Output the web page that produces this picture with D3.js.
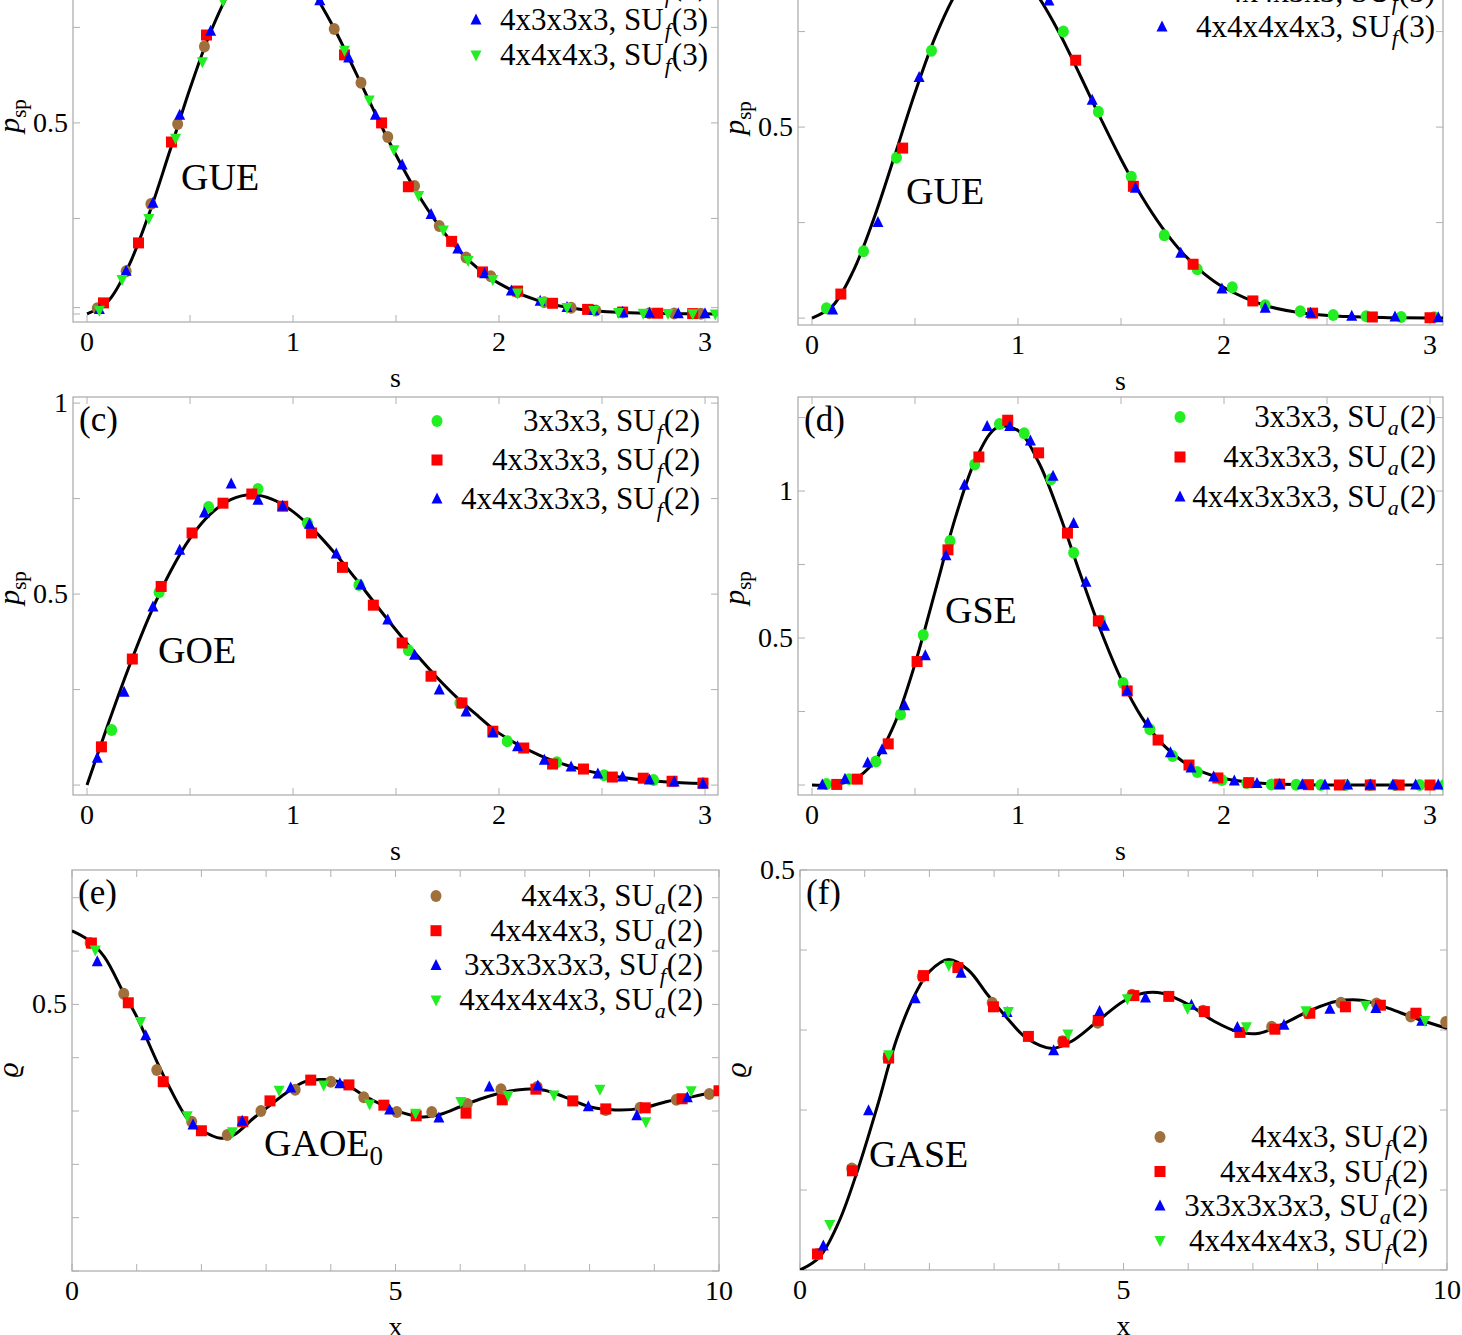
<!DOCTYPE html>
<html>
<head>
<meta charset="utf-8">
<script src="https://cdn.jsdelivr.net/npm/d3@7"></script>
<style>
body { margin: 0; background: #fff; }
text { font-family: "Liberation Serif", "DejaVu Serif", serif; }
</style>
</head>
<body>
<script>
var W = 1462, H = 1335;

// ---- theory curves ----
var gueS = [0,0.1,0.2,0.3,0.4,0.5,0.6,0.7,0.8,0.9,1.0,1.1,1.2,1.3,1.4,1.5,1.6,1.7,1.8,1.9,2.0,2.2,2.4,2.6,2.8,3.0,3.1];
var gueP = [0,0.032,0.123,0.260,0.423,0.590,0.738,0.851,0.921,0.936,0.908,0.840,0.747,0.637,0.524,0.416,0.319,0.237,0.170,0.118,0.080,0.033,0.012,0.004,0.0012,0.0003,0.0001];
var goeS = [0,0.1,0.2,0.3,0.4,0.5,0.6,0.7,0.8,0.9,1.0,1.1,1.2,1.3,1.4,1.5,1.6,1.7,1.8,1.9,2.0,2.2,2.4,2.6,2.8,3.0];
var goeP = [0,0.156,0.304,0.439,0.554,0.646,0.710,0.748,0.760,0.748,0.716,0.668,0.609,0.543,0.474,0.406,0.341,0.281,0.227,0.180,0.136,0.077,0.041,0.020,0.009,0.004];
var gseS = [0,0.1,0.2,0.3,0.4,0.5,0.6,0.7,0.8,0.9,1.0,1.1,1.2,1.3,1.4,1.5,1.6,1.7,1.8,1.9,2.0,2.2,2.4,2.6,2.8,3.1];
var gseP = [0,0.001,0.017,0.077,0.207,0.412,0.665,0.919,1.116,1.217,1.206,1.098,0.924,0.722,0.528,0.361,0.231,0.140,0.080,0.043,0.022,0.005,0.001,0,0,0];
var gaoeX = [0,0.25,0.5,0.8,1.0,1.3,1.5,1.8,2.0,2.3,2.5,2.8,3.0,3.3,3.6,3.9,4.2,4.5,4.8,5.0,5.4,5.7,6.0,6.3,6.7,7.0,7.3,7.6,8.0,8.4,8.8,9.2,9.6,10];
var gaoeR = [0.638,0.621,0.589,0.521,0.477,0.396,0.346,0.283,0.264,0.249,0.255,0.286,0.305,0.333,0.355,0.359,0.352,0.330,0.311,0.301,0.289,0.294,0.308,0.322,0.336,0.341,0.339,0.327,0.308,0.302,0.305,0.318,0.327,0.338];
var gaseX = [0,0.3,0.6,0.9,1.2,1.5,1.8,2.0,2.3,2.6,2.9,3.2,3.5,3.9,4.2,4.6,5.0,5.3,5.6,6.0,6.4,6.8,7.1,7.5,7.9,8.3,8.7,9.1,9.5,10];
var gaseR = [0,0.016,0.060,0.127,0.206,0.290,0.348,0.373,0.388,0.375,0.344,0.315,0.290,0.277,0.286,0.311,0.336,0.346,0.346,0.332,0.311,0.297,0.296,0.309,0.325,0.336,0.337,0.327,0.315,0.302];

// ---- data points ----
// (a) GUE, SU_f(3)
var aBrownX = [0.05,0.19,0.31,0.44,0.57,1.20,1.33,1.46,1.59,1.71,1.84,1.96,2.09,2.22,2.35,2.47,2.60,2.73,2.85,2.98];
var aBrownY = [0.015,0.112,0.288,0.497,0.70,0.746,0.605,0.463,0.335,0.230,0.148,0.099,0.057,0.031,0.016,0.009,0.004,0.002,0.001,0.0003];
var aRedX = [0.08,0.25,0.41,0.58,1.25,1.43,1.56,1.77,1.92,2.09,2.26,2.43,2.60,2.77,2.94];
var aRedY = [0.029,0.186,0.45,0.73,0.678,0.50,0.333,0.19,0.11,0.06,0.028,0.012,0.005,0.002,0.001];
var aBlueX = [0.06,0.19,0.32,0.45,0.60,1.13,1.27,1.40,1.53,1.67,1.80,1.93,2.06,2.20,2.33,2.46,2.60,2.73,2.87,3.00];
var aBlueY = [0.012,0.112,0.29,0.52,0.74,0.82,0.67,0.52,0.39,0.26,0.17,0.105,0.06,0.033,0.017,0.009,0.004,0.002,0.0008,0.0003];
var aGreenX = [0.06,0.17,0.30,0.43,0.56,0.66,1.25,1.37,1.49,1.61,1.73,1.85,1.97,2.09,2.21,2.33,2.46,2.58,2.70,2.82,2.94,3.05];
var aGreenY = [0.01,0.09,0.25,0.46,0.66,0.82,0.69,0.56,0.43,0.31,0.22,0.14,0.09,0.055,0.032,0.017,0.009,0.004,0.002,0.001,0.0005,0.0002];
// (b) GUE, SU_f(3)
var bGreenX = [0.07,0.25,0.41,0.58,1.22,1.39,1.55,1.71,1.87,2.04,2.20,2.37,2.53,2.69,2.86,3.02];
var bGreenY = [0.026,0.175,0.42,0.70,0.75,0.54,0.37,0.217,0.128,0.081,0.034,0.018,0.008,0.005,0.003,0.002];
var bRedX = [0.14,0.44,1.28,1.56,1.85,2.14,2.43,2.72,3.00];
var bRedY = [0.063,0.445,0.675,0.345,0.141,0.045,0.013,0.003,0.001];
var bBlueX = [0.10,0.32,0.52,1.15,1.36,1.57,1.79,1.99,2.20,2.42,2.62,2.83,3.04];
var bBlueY = [0.021,0.25,0.63,0.83,0.57,0.34,0.17,0.076,0.026,0.013,0.005,0.003,0.001];
// (c) GOE, SU_f(2)
var cGreenX = [0.12,0.35,0.59,0.83,1.07,1.32,1.56,1.81,2.04,2.28,2.51,2.75,2.99];
var cGreenY = [0.144,0.505,0.728,0.775,0.686,0.524,0.353,0.215,0.115,0.06,0.026,0.013,0.005];
var cRedX = [0.07,0.22,0.36,0.51,0.66,0.80,0.95,1.09,1.24,1.39,1.53,1.67,1.82,1.97,2.12,2.26,2.41,2.55,2.70,2.84,2.99];
var cRedY = [0.10,0.33,0.52,0.66,0.738,0.762,0.73,0.66,0.57,0.471,0.372,0.285,0.215,0.141,0.097,0.055,0.042,0.021,0.018,0.010,0.005];
var cBlueX = [0.05,0.18,0.32,0.45,0.57,0.70,0.83,0.95,1.08,1.21,1.33,1.46,1.59,1.71,1.84,1.97,2.09,2.22,2.35,2.48,2.60,2.73,2.85,2.99];
var cBlueY = [0.07,0.243,0.466,0.615,0.712,0.788,0.746,0.73,0.683,0.605,0.524,0.432,0.34,0.249,0.191,0.136,0.10,0.065,0.047,0.029,0.021,0.013,0.008,0.003];
// (d) GSE, SU_a(2)
var dGreenX = [0.07,0.18,0.31,0.43,0.54,0.67,0.79,0.91,1.03,1.16,1.27,1.40,1.51,1.64,1.75,1.87,1.99,2.11,2.23,2.35,2.47,2.59,2.71,2.83,2.95,3.07];
var dGreenY = [0.003,0.02,0.08,0.24,0.51,0.83,1.09,1.228,1.197,1.04,0.79,0.56,0.347,0.19,0.099,0.044,0.017,0.007,0.002,0.001,0,0,0,0,0,0];
var dRedX = [0.12,0.22,0.37,0.51,0.66,0.81,0.95,1.10,1.24,1.39,1.53,1.68,1.83,1.97,2.12,2.27,2.41,2.56,2.71,2.85,3.00];
var dRedY = [0.002,0.02,0.14,0.42,0.80,1.116,1.241,1.13,0.857,0.558,0.32,0.153,0.068,0.024,0.008,0.003,0.001,0,0,0,0];
var dBlueX = [0.05,0.16,0.27,0.34,0.45,0.55,0.65,0.74,0.85,0.96,1.06,1.17,1.27,1.33,1.42,1.53,1.63,1.74,1.84,1.95,2.05,2.16,2.27,2.38,2.49,2.60,2.71,2.82,2.93,3.04];
var dBlueY = [0,0.02,0.075,0.12,0.27,0.44,0.78,1.02,1.22,1.22,1.17,1.05,0.89,0.69,0.54,0.32,0.21,0.11,0.058,0.027,0.014,0.005,0.002,0.001,0,0,0,0,0,0];
// (e) GAOE_0
var eBrownX = [0.28,0.80,1.31,1.85,2.40,2.92,3.45,4.00,4.51,5.02,5.56,6.11,6.63,7.19,8.25,8.78,9.34,9.85];
var eBrownY = [0.615,0.52,0.377,0.28,0.255,0.30,0.34,0.355,0.326,0.298,0.298,0.313,0.341,0.345,0.302,0.306,0.321,0.332];
var eRedX = [0.30,0.87,1.41,2.00,2.64,3.06,3.69,4.28,4.82,5.32,6.09,6.65,7.17,7.74,8.25,8.86,9.43,10.0];
var eRedY = [0.615,0.503,0.355,0.263,0.28,0.319,0.358,0.349,0.311,0.291,0.296,0.321,0.341,0.319,0.304,0.306,0.323,0.338];
var eBlueX = [0.39,1.14,1.87,2.63,3.38,4.14,4.91,5.67,6.45,7.20,7.98,8.73,9.51];
var eBlueY = [0.58,0.441,0.274,0.281,0.343,0.351,0.302,0.287,0.345,0.347,0.308,0.291,0.325];
var eGreenX = [0.36,1.06,1.78,2.48,3.20,3.89,4.60,5.31,6.01,6.74,7.45,8.16,8.87,9.57];
var eGreenY = [0.602,0.468,0.291,0.261,0.339,0.349,0.313,0.296,0.318,0.329,0.330,0.341,0.28,0.338];
// (f) GASE
var fBrownX = [0.27,0.80,1.36,1.89,2.97,4.06,4.60,5.13,6.23,7.29,7.85,8.36,8.91,9.44,9.98];
var fBrownY = [0.02,0.127,0.265,0.367,0.334,0.286,0.309,0.344,0.324,0.304,0.321,0.334,0.333,0.317,0.31];
var fRedX = [0.27,0.81,1.37,1.91,2.44,2.99,3.53,4.08,4.61,5.16,5.70,6.25,6.80,7.34,7.88,8.43,8.97,9.52];
var fRedY = [0.02,0.124,0.265,0.368,0.378,0.329,0.292,0.285,0.312,0.343,0.342,0.323,0.297,0.301,0.321,0.329,0.331,0.321];
var fBlueX = [0.36,1.06,1.78,2.49,3.20,3.92,4.63,5.34,6.05,6.76,7.48,8.19,8.90,9.61];
var fBlueY = [0.03,0.199,0.339,0.371,0.322,0.274,0.323,0.34,0.331,0.303,0.306,0.326,0.327,0.311];
var fGreenX = [0.46,1.37,2.30,3.22,4.14,5.06,5.99,6.90,7.82,8.74,9.66];
var fGreenY = [0.057,0.269,0.381,0.323,0.295,0.339,0.327,0.304,0.324,0.331,0.312];

var BROWN = "#a0703c", RED = "#ff0000", BLUE = "#0000ff", GREEN = "#22ee22";

function zip(xs, ys) { return xs.map(function(x, i) { return [x, ys[i]]; }); }

var svg = d3.select("body").append("svg").attr("width", W).attr("height", H);
var defs = svg.append("defs");

function marker(g, type, color, x, y) {
  if (type === "circle") {
    g.append("ellipse").attr("cx", x).attr("cy", y).attr("rx", 5.5).attr("ry", 6).attr("fill", color);
  } else if (type === "square") {
    g.append("rect").attr("x", x - 5.5).attr("y", y - 5.5).attr("width", 11).attr("height", 11).attr("fill", color);
  } else if (type === "up") {
    g.append("path").attr("d", "M" + x + "," + (y - 6.5) + "L" + (x + 5.5) + "," + (y + 4.5) + "L" + (x - 5.5) + "," + (y + 4.5) + "Z").attr("fill", color);
  } else {
    g.append("path").attr("d", "M" + x + "," + (y + 6.5) + "L" + (x + 5.5) + "," + (y - 4.5) + "L" + (x - 5.5) + "," + (y - 4.5) + "Z").attr("fill", color);
  }
}

function richLabel(t, parts) {
  t.append("tspan").text(parts[0] + ", SU");
  t.append("tspan").text(parts[1]).attr("font-style", "italic").attr("font-size", 22).attr("dy", 8).attr("dx", 1);
  t.append("tspan").text(parts[2]).attr("dy", -8).attr("dx", 1);
}

var idc = 0;
function panel(o) {
  var g = svg.append("g");
  var x = d3.scaleLinear().domain(o.xd).range([o.L, o.R]);
  var y = d3.scaleLinear().domain(o.yd).range([o.B, o.T]);
  var cid = "clip" + (idc++);
  defs.append("clipPath").attr("id", cid).append("rect")
    .attr("x", o.L).attr("y", o.T).attr("width", o.R - o.L).attr("height", o.B - o.T);

  g.append("rect").attr("x", o.L).attr("y", o.T).attr("width", o.R - o.L).attr("height", o.B - o.T)
    .attr("fill", "none").attr("stroke", "#a8a8a8").attr("stroke-width", 1.2);

  var tk = "#b0b0b0";
  o.xt.forEach(function(v) {
    g.append("line").attr("x1", x(v)).attr("x2", x(v)).attr("y1", o.B).attr("y2", o.B - 7).attr("stroke", tk);
    g.append("line").attr("x1", x(v)).attr("x2", x(v)).attr("y1", o.T).attr("y2", o.T + 7).attr("stroke", tk);
  });
  o.yt.forEach(function(v) {
    g.append("line").attr("x1", o.L).attr("x2", o.L + 7).attr("y1", y(v)).attr("y2", y(v)).attr("stroke", tk);
    g.append("line").attr("x1", o.R).attr("x2", o.R - 7).attr("y1", y(v)).attr("y2", y(v)).attr("stroke", tk);
  });
  o.xl.forEach(function(v) {
    g.append("text").attr("x", x(v)).attr("y", o.B + 29).attr("text-anchor", "middle")
      .attr("font-size", 28).text(v);
  });
  o.yl.forEach(function(v) {
    g.append("text").attr("x", o.L - 5).attr("y", y(v) + 9).attr("text-anchor", "end")
      .attr("font-size", 28).text(v);
  });

  g.append("text").attr("x", (o.L + o.R) / 2).attr("y", o.B + 65).attr("text-anchor", "middle")
    .attr("font-size", 28).text(o.xlab);
  var yt = g.append("text").attr("transform", "translate(" + (o.L - 54) + "," + o.ylabY + ") rotate(-90)")
    .attr("text-anchor", "middle").attr("font-size", 30);
  if (o.ylab === "p") {
    yt.append("tspan").text("p").attr("font-style", "italic");
    yt.append("tspan").text("sp").attr("font-size", 21).attr("dy", 7);
  } else {
    yt.text("\u03f1").attr("font-style", "italic");
  }

  var line = d3.line().x(function(d) { return x(d[0]); }).y(function(d) { return y(d[1]); })
    .curve(d3.curveCatmullRom);
  var cg = g.append("g").attr("clip-path", "url(#" + cid + ")");
  cg.append("path").datum(o.curve).attr("d", line).attr("fill", "none")
    .attr("stroke", "#000").attr("stroke-width", 3);

  o.series.forEach(function(s) {
    s.pts.forEach(function(p) { marker(cg, s.type, s.color, x(p[0]), y(p[1])); });
  });

  o.series.forEach(function(s, i) {
    var ly = o.legY + i * o.legDy;
    marker(g, s.type, s.color, o.legMX, ly);
    var t = g.append("text").attr("x", o.legTX).attr("y", ly + 10).attr("text-anchor", "end").attr("font-size", 31);
    richLabel(t, s.label);
  });

  var en = g.append("text").attr("x", o.enX).attr("y", o.enY).attr("font-size", 38);
  en.append("tspan").text(o.ens);
  if (o.ensSub) en.append("tspan").text(o.ensSub).attr("font-size", 27).attr("dy", 9);
  if (o.letter) g.append("text").attr("x", o.L + 6).attr("y", o.T + 34).attr("font-size", 35).text(o.letter);
}

var sTicks = [0, 0.5, 1, 1.5, 2, 2.5, 3];
var pTicks = [0, 0.25, 0.5, 0.75, 1, 1.25];
var xTicks = d3.range(0, 11);
var rTicks = [0, 0.1, 0.2, 0.3, 0.4, 0.5, 0.6, 0.7];

panel({ L: 73, R: 718, T: -80, B: 322, xd: [-0.068, 3.063], yd: [-0.021, 1.031],
  xt: sTicks, yt: pTicks, xl: [0, 1, 2, 3], yl: [0.5], xlab: "s", ylab: "p", ylabY: 116,
  curve: zip(gueS, gueP), ens: "GUE", enX: 181, enY: 190,
  legY: -50, legDy: 35, legMX: 476, legTX: 708,
  series: [
    { type: "circle", color: BROWN, pts: zip(aBrownX, aBrownY), label: ["4x4x3", "f", "(3)"] },
    { type: "square", color: RED, pts: zip(aRedX, aRedY), label: ["3x3x3x3", "f", "(3)"] },
    { type: "up", color: BLUE, pts: zip(aBlueX, aBlueY), label: ["4x3x3x3", "f", "(3)"] },
    { type: "down", color: GREEN, pts: zip(aGreenX, aGreenY), label: ["4x4x4x3", "f", "(3)"] }
  ] });

panel({ L: 798, R: 1443, T: -80, B: 325, xd: [-0.068, 3.063], yd: [-0.018, 1.042],
  xt: sTicks, yt: pTicks, xl: [0, 1, 2, 3], yl: [0.5], xlab: "s", ylab: "p", ylabY: 118,
  curve: zip(gueS, gueP), ens: "GUE", enX: 906, enY: 204,
  legY: -43, legDy: 35, legMX: 1162, legTX: 1435,
  series: [
    { type: "circle", color: GREEN, pts: zip(bGreenX, bGreenY), label: ["4x3x3x3", "f", "(3)"] },
    { type: "square", color: RED, pts: zip(bRedX, bRedY), label: ["4x4x3x3", "f", "(3)"] },
    { type: "up", color: BLUE, pts: zip(bBlueX, bBlueY), label: ["4x4x4x4x3", "f", "(3)"] }
  ] });

panel({ L: 73, R: 718, T: 397, B: 795, xd: [-0.068, 3.063], yd: [-0.026, 1.016],
  xt: sTicks, yt: pTicks, xl: [0, 1, 2, 3], yl: [0.5, 1], xlab: "s", ylab: "p", ylabY: 588,
  curve: zip(goeS, goeP), ens: "GOE", enX: 158, enY: 663, letter: "(c)",
  legY: 421, legDy: 39, legMX: 437, legTX: 700,
  series: [
    { type: "circle", color: GREEN, pts: zip(cGreenX, cGreenY), label: ["3x3x3", "f", "(2)"] },
    { type: "square", color: RED, pts: zip(cRedX, cRedY), label: ["4x3x3x3", "f", "(2)"] },
    { type: "up", color: BLUE, pts: zip(cBlueX, cBlueY), label: ["4x4x3x3x3", "f", "(2)"] }
  ] });

panel({ L: 798, R: 1443, T: 397, B: 795, xd: [-0.068, 3.063], yd: [-0.034, 1.32],
  xt: sTicks, yt: pTicks, xl: [0, 1, 2, 3], yl: [0.5, 1], xlab: "s", ylab: "p", ylabY: 588,
  curve: zip(gseS, gseP), ens: "GSE", enX: 945, enY: 623, letter: "(d)",
  legY: 417, legDy: 40, legMX: 1180, legTX: 1436,
  series: [
    { type: "circle", color: GREEN, pts: zip(dGreenX, dGreenY), label: ["3x3x3", "a", "(2)"] },
    { type: "square", color: RED, pts: zip(dRedX, dRedY), label: ["4x3x3x3", "a", "(2)"] },
    { type: "up", color: BLUE, pts: zip(dBlueX, dBlueY), label: ["4x4x3x3x3", "a", "(2)"] }
  ] });

panel({ L: 72, R: 719, T: 870, B: 1271, xd: [0, 10], yd: [0, 0.752],
  xt: xTicks, yt: rTicks, xl: [0, 5, 10], yl: [0.5], xlab: "x", ylab: "r", ylabY: 1070,
  curve: zip(gaoeX, gaoeR), ens: "GAOE", ensSub: "0", enX: 264, enY: 1156, letter: "(e)",
  legY: 896, legDy: 34.7, legMX: 436, legTX: 703,
  series: [
    { type: "circle", color: BROWN, pts: zip(eBrownX, eBrownY), label: ["4x4x3", "a", "(2)"] },
    { type: "square", color: RED, pts: zip(eRedX, eRedY), label: ["4x4x4x3", "a", "(2)"] },
    { type: "up", color: BLUE, pts: zip(eBlueX, eBlueY), label: ["3x3x3x3x3", "f", "(2)"] },
    { type: "down", color: GREEN, pts: zip(eGreenX, eGreenY), label: ["4x4x4x4x3", "a", "(2)"] }
  ] });

panel({ L: 800, R: 1447, T: 870, B: 1270, xd: [0, 10], yd: [0, 0.5],
  xt: xTicks, yt: [0, 0.1, 0.2, 0.3, 0.4, 0.5], xl: [0, 5, 10], yl: [0.5], xlab: "x", ylab: "r", ylabY: 1070,
  curve: zip(gaseX, gaseR), ens: "GASE", enX: 869, enY: 1167, letter: "(f)",
  legY: 1137, legDy: 34.5, legMX: 1160, legTX: 1428,
  series: [
    { type: "circle", color: BROWN, pts: zip(fBrownX, fBrownY), label: ["4x4x3", "f", "(2)"] },
    { type: "square", color: RED, pts: zip(fRedX, fRedY), label: ["4x4x4x3", "f", "(2)"] },
    { type: "up", color: BLUE, pts: zip(fBlueX, fBlueY), label: ["3x3x3x3x3", "a", "(2)"] },
    { type: "down", color: GREEN, pts: zip(fGreenX, fGreenY), label: ["4x4x4x4x3", "f", "(2)"] }
  ] });
</script>
</body>
</html>
